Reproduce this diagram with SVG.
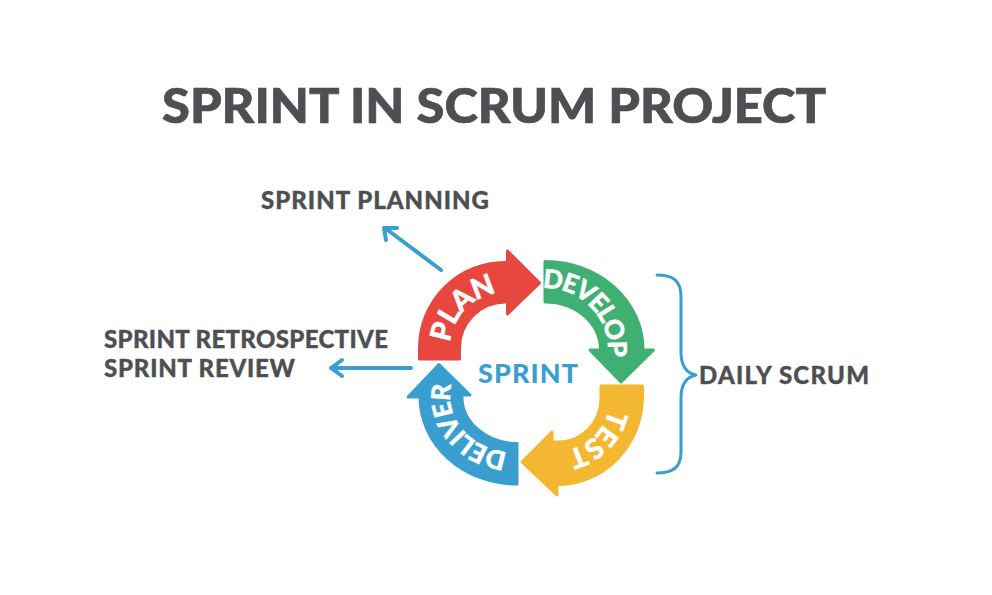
<svg xmlns="http://www.w3.org/2000/svg" width="992" height="595" viewBox="0 0 992 595">
<style>
.t{font-family:"Lato","Liberation Sans",sans-serif;font-weight:900;fill:#4d4f53}
.l{font-size:24px;stroke:#4d4f53;stroke-width:.35}
.a{font-family:"Lato","Liberation Sans",sans-serif;font-weight:900;fill:#fff;font-size:28px;letter-spacing:-1px;stroke:#fff;stroke-width:.4}
.c{fill:none;stroke:#3a9fd0;stroke-width:4;stroke-linecap:round;stroke-linejoin:round}
.b{stroke-linejoin:round;stroke-width:3}
</style>
<defs>
<path id="pPlan" d="M450 352A55 55 0 0 1 505 293"/>
<path id="pDev" d="M546 288A63 62 0 0 1 608 352"/>
<path id="pTest" d="M610 398A53 53 0 0 1 557 451"/>
<path id="pDel" d="M505 452A67 56 0 0 1 451 388"/>
</defs>
<rect width="992" height="595" fill="#fff"/>
<text class="t" x="162" y="123" font-size="47" stroke="#4d4f53" stroke-width=".7" textLength="664" lengthAdjust="spacingAndGlyphs">SPRINT IN SCRUM PROJECT</text>
<g id="connectors">
<path class="c" d="M441 270L385 228M386 240L384 228L397 228"/>
<path class="c" d="M411 368H331M342 360L331 368L342 376"/>
<path class="c" style="stroke-width:3" d="M657 275C672 275 681 280 681 296V352C681 366 686 373 696 375C686 377 681 384 681 398V452C681 468 672 473 657 473"/>
</g>
<g id="node-plan">
<path class="b" fill="#e8473f" stroke="#e8473f" d="M419.500 359V348A85.500 85.500 0 0 1 505 262.500H507.500V251L539.500 283L507.500 314V302H505A46 46 0 0 0 459.500 348V359Z"/>
<text class="a" style="font-size:29px"><textPath href="#pPlan" startOffset="50%" text-anchor="middle">PLAN</textPath></text>
</g>
<g id="node-develop">
<path class="b" fill="#3fb072" stroke="#3fb072" d="M545 261.500A98 88 0 0 1 643 350H653.500L621 382L590 350H600.500A55 48 0 0 0 545 302Z"/>
<text class="a" style="font-size:26px;letter-spacing:-1.8px"><textPath href="#pDev" startOffset="50%" text-anchor="middle">DEVELOP</textPath></text>
</g>
<g id="node-test">
<path class="b" fill="#f4b731" stroke="#f4b731" d="M601 386H642.500V397A85 88 0 0 1 557 484.500V495L522 462L552 432V442H557A43 43 0 0 0 601 399Z"/>
<text class="a"><textPath href="#pTest" startOffset="50%" text-anchor="middle">TEST</textPath></text>
</g>
<g id="node-deliver">
<path class="b" fill="#3a9fd0" stroke="#3a9fd0" d="M517 443.500V484A97 87 0 0 1 420 397H408L439 364.500L470 395H462A55 47 0 0 0 517 443.500Z"/>
<text class="a" style="font-size:26px;letter-spacing:-1.2px"><textPath href="#pDel" startOffset="50%" text-anchor="middle">DELIVER</textPath></text>
</g>
<g id="node-sprint"><text x="478" y="383" font-family="Lato,'Liberation Sans',sans-serif" font-weight="900" font-size="27" fill="#3a9fd0" textLength="100">SPRINT</text></g>
<g id="node-planning"><text class="t l" x="261" y="209" textLength="228">SPRINT PLANNING</text></g>
<g id="node-retro"><text class="t l" x="104" y="348" textLength="284">SPRINT RETROSPECTIVE</text><text class="t l" x="104" y="377" textLength="191">SPRINT REVIEW</text></g>
<g id="node-daily"><text class="t l" x="699" y="384" textLength="170">DAILY SCRUM</text></g>
</svg>
